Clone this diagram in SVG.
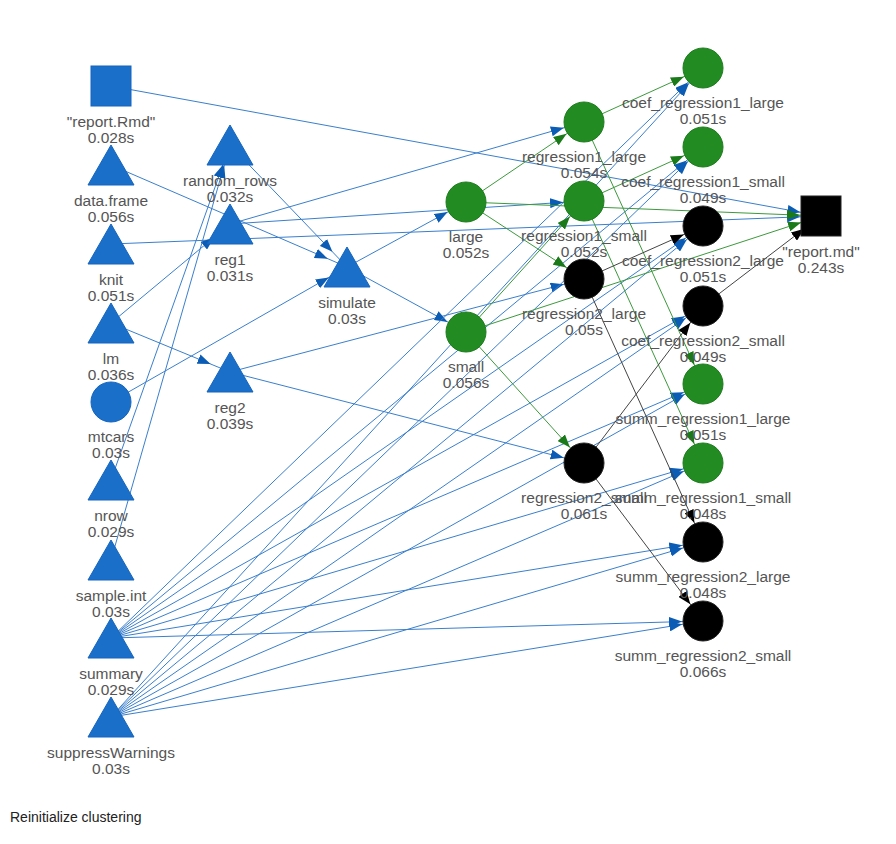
<svg xmlns="http://www.w3.org/2000/svg" width="896" height="844" viewBox="0 0 896 844">
<style>
.b{fill:#1a6fc9;stroke:#1565c0;stroke-width:1}
.g{fill:#228b22;stroke:#1e7d1e;stroke-width:1}
.k{fill:#000;stroke:#222;stroke-width:1}
.eb{stroke:#3a7fcc;stroke-width:1;fill:none;marker-end:url(#ab)}
.eg{stroke:#3c993c;stroke-width:1;fill:none;marker-end:url(#ag)}
.ek{stroke:#444;stroke-width:1;fill:none;marker-end:url(#ak)}
text{font-family:"Liberation Sans",Arial,sans-serif;font-size:15.5px;fill:#555;text-anchor:middle}
</style>
<defs>
<marker id="ab" markerUnits="userSpaceOnUse" markerWidth="13" markerHeight="10" refX="34" refY="5" orient="auto"><path d="M0,0L13,5L0,10Z" fill="#0b5cb5"/></marker>
<marker id="ag" markerUnits="userSpaceOnUse" markerWidth="13" markerHeight="10" refX="34" refY="5" orient="auto"><path d="M0,0L13,5L0,10Z" fill="#1a7a1a"/></marker>
<marker id="ak" markerUnits="userSpaceOnUse" markerWidth="13" markerHeight="10" refX="34" refY="5" orient="auto"><path d="M0,0L13,5L0,10Z" fill="#000"/></marker>
</defs>
<rect width="896" height="844" fill="#fff"/>
<g id="edges">
<line class="eb" x1="111" y1="86" x2="821" y2="216"/>
<line class="eb" x1="111" y1="244" x2="821" y2="216"/>
<line class="eb" x1="111" y1="165" x2="347" y2="267"/>
<line class="eb" x1="230" y1="145" x2="347" y2="267"/>
<line class="eb" x1="111" y1="402" x2="347" y2="267"/>
<line class="eb" x1="111" y1="323" x2="230" y2="224"/>
<line class="eb" x1="111" y1="323" x2="230" y2="372"/>
<line class="eb" x1="111" y1="480" x2="230" y2="145"/>
<line class="eb" x1="111" y1="560" x2="230" y2="145"/>
<line class="eb" x1="230" y1="224" x2="584" y2="122"/>
<line class="eb" x1="230" y1="224" x2="584" y2="201"/>
<line class="eb" x1="230" y1="372" x2="584" y2="279"/>
<line class="eb" x1="230" y1="372" x2="584" y2="463"/>
<line class="eb" x1="347" y1="267" x2="466" y2="202"/>
<line class="eb" x1="347" y1="267" x2="466" y2="332"/>
<line class="eb" x1="111" y1="638" x2="703" y2="68"/>
<line class="eb" x1="111" y1="638" x2="703" y2="147"/>
<line class="eb" x1="111" y1="638" x2="703" y2="226"/>
<line class="eb" x1="111" y1="638" x2="703" y2="306"/>
<line class="eb" x1="111" y1="638" x2="703" y2="384"/>
<line class="eb" x1="111" y1="638" x2="703" y2="463"/>
<line class="eb" x1="111" y1="638" x2="703" y2="542"/>
<line class="eb" x1="111" y1="638" x2="703" y2="621"/>
<line class="eb" x1="111" y1="717" x2="703" y2="68"/>
<line class="eb" x1="111" y1="717" x2="703" y2="147"/>
<line class="eb" x1="111" y1="717" x2="703" y2="226"/>
<line class="eb" x1="111" y1="717" x2="703" y2="306"/>
<line class="eb" x1="111" y1="717" x2="703" y2="384"/>
<line class="eb" x1="111" y1="717" x2="703" y2="463"/>
<line class="eb" x1="111" y1="717" x2="703" y2="542"/>
<line class="eb" x1="111" y1="717" x2="703" y2="621"/>
<line class="eg" x1="466" y1="202" x2="584" y2="122"/>
<line class="eg" x1="466" y1="202" x2="584" y2="279"/>
<line class="eg" x1="466" y1="202" x2="821" y2="216"/>
<line class="eg" x1="466" y1="332" x2="584" y2="201"/>
<line class="eg" x1="466" y1="332" x2="584" y2="463"/>
<line class="eg" x1="466" y1="332" x2="821" y2="216"/>
<line class="eg" x1="584" y1="122" x2="703" y2="68"/>
<line class="eg" x1="584" y1="122" x2="703" y2="384"/>
<line class="eg" x1="584" y1="201" x2="703" y2="147"/>
<line class="eg" x1="584" y1="201" x2="703" y2="463"/>
<line class="ek" x1="584" y1="279" x2="703" y2="226"/>
<line class="ek" x1="584" y1="279" x2="703" y2="542"/>
<line class="ek" x1="584" y1="463" x2="703" y2="306"/>
<line class="ek" x1="584" y1="463" x2="703" y2="621"/>
<line class="ek" x1="703" y1="306" x2="821" y2="216"/>
</g>
<g id="n_report_Rmd"><rect class="b" x="91" y="66" width="40" height="40"/><text x="111" y="127">"report.Rmd"</text><text x="111" y="143">0.028s</text></g>
<g id="n_data_frame"><polygon class="b" points="111,145 88,185 134,185"/><text x="111" y="206">data.frame</text><text x="111" y="222">0.056s</text></g>
<g id="n_knit"><polygon class="b" points="111,224 88,264 134,264"/><text x="111" y="285">knit</text><text x="111" y="301">0.051s</text></g>
<g id="n_lm"><polygon class="b" points="111,303 88,343 134,343"/><text x="111" y="364">lm</text><text x="111" y="380">0.036s</text></g>
<g id="n_mtcars"><circle class="b" cx="111" cy="402" r="20"/><text x="111" y="442">mtcars</text><text x="111" y="458">0.03s</text></g>
<g id="n_nrow"><polygon class="b" points="111,460 88,500 134,500"/><text x="111" y="521">nrow</text><text x="111" y="537">0.029s</text></g>
<g id="n_sample_int"><polygon class="b" points="111,540 88,580 134,580"/><text x="111" y="601">sample.int</text><text x="111" y="617">0.03s</text></g>
<g id="n_summary"><polygon class="b" points="111,618 88,658 134,658"/><text x="111" y="679">summary</text><text x="111" y="695">0.029s</text></g>
<g id="n_suppressWarnings"><polygon class="b" points="111,697 88,737 134,737"/><text x="111" y="758">suppressWarnings</text><text x="111" y="774">0.03s</text></g>
<g id="n_random_rows"><polygon class="b" points="230,125 207,165 253,165"/><text x="230" y="186">random_rows</text><text x="230" y="202">0.032s</text></g>
<g id="n_reg1"><polygon class="b" points="230,204 207,244 253,244"/><text x="230" y="265">reg1</text><text x="230" y="281">0.031s</text></g>
<g id="n_reg2"><polygon class="b" points="230,352 207,392 253,392"/><text x="230" y="413">reg2</text><text x="230" y="429">0.039s</text></g>
<g id="n_simulate"><polygon class="b" points="347,247 324,287 370,287"/><text x="347" y="308">simulate</text><text x="347" y="324">0.03s</text></g>
<g id="n_large"><circle class="g" cx="466" cy="202" r="20"/><text x="466" y="242">large</text><text x="466" y="258">0.052s</text></g>
<g id="n_small"><circle class="g" cx="466" cy="332" r="20"/><text x="466" y="372">small</text><text x="466" y="388">0.056s</text></g>
<g id="n_regression1_large"><circle class="g" cx="584" cy="122" r="20"/><text x="584" y="162">regression1_large</text><text x="584" y="178">0.054s</text></g>
<g id="n_regression1_small"><circle class="g" cx="584" cy="201" r="20"/><text x="584" y="241">regression1_small</text><text x="584" y="257">0.052s</text></g>
<g id="n_regression2_large"><circle class="k" cx="584" cy="279" r="20"/><text x="584" y="319">regression2_large</text><text x="584" y="335">0.05s</text></g>
<g id="n_regression2_small"><circle class="k" cx="584" cy="463" r="20"/><text x="584" y="503">regression2_small</text><text x="584" y="519">0.061s</text></g>
<g id="n_coef_regression1_large"><circle class="g" cx="703" cy="68" r="20"/><text x="703" y="108">coef_regression1_large</text><text x="703" y="124">0.051s</text></g>
<g id="n_coef_regression1_small"><circle class="g" cx="703" cy="147" r="20"/><text x="703" y="187">coef_regression1_small</text><text x="703" y="203">0.049s</text></g>
<g id="n_coef_regression2_large"><circle class="k" cx="703" cy="226" r="20"/><text x="703" y="266">coef_regression2_large</text><text x="703" y="282">0.051s</text></g>
<g id="n_coef_regression2_small"><circle class="k" cx="703" cy="306" r="20"/><text x="703" y="346">coef_regression2_small</text><text x="703" y="362">0.049s</text></g>
<g id="n_summ_regression1_large"><circle class="g" cx="703" cy="384" r="20"/><text x="703" y="424">summ_regression1_large</text><text x="703" y="440">0.051s</text></g>
<g id="n_summ_regression1_small"><circle class="g" cx="703" cy="463" r="20"/><text x="703" y="503">summ_regression1_small</text><text x="703" y="519">0.048s</text></g>
<g id="n_summ_regression2_large"><circle class="k" cx="703" cy="542" r="20"/><text x="703" y="582">summ_regression2_large</text><text x="703" y="598">0.048s</text></g>
<g id="n_summ_regression2_small"><circle class="k" cx="703" cy="621" r="20"/><text x="703" y="661">summ_regression2_small</text><text x="703" y="677">0.066s</text></g>
<g id="n_report_md"><rect class="k" x="801" y="196" width="40" height="40"/><text x="821" y="257">"report.md"</text><text x="821" y="273">0.243s</text></g>
<text x="10" y="822" style="text-anchor:start;fill:#222;font-size:14px">Reinitialize clustering</text>
</svg>
